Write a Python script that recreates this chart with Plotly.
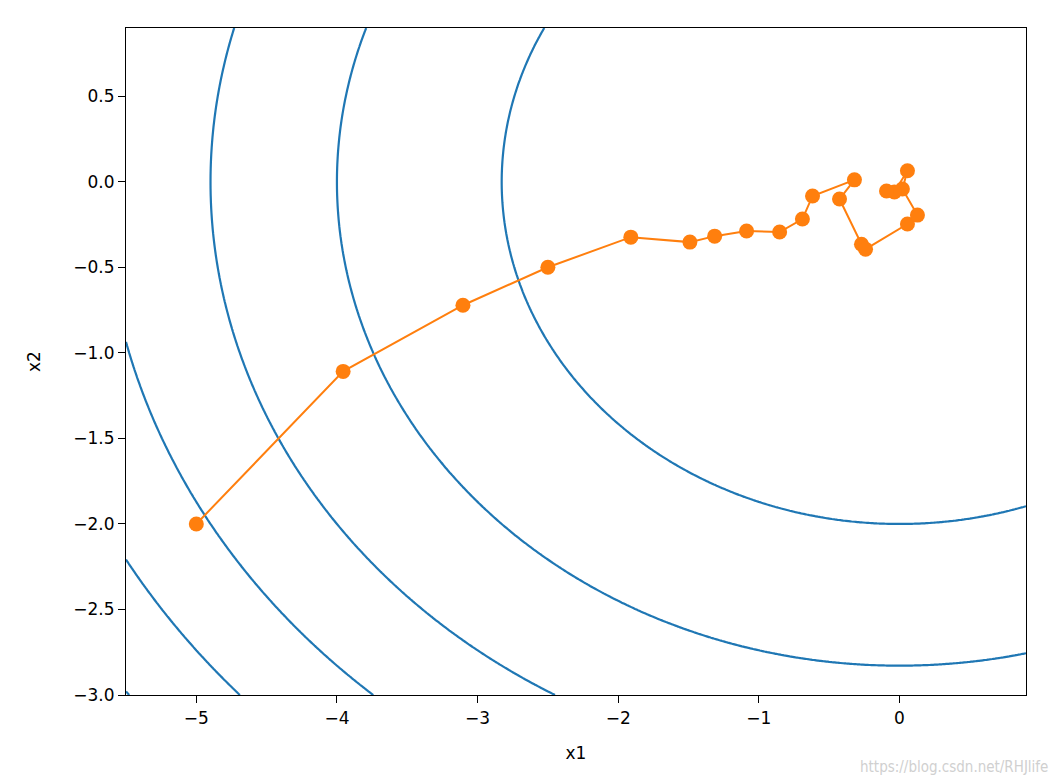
import numpy as np
import plotly.graph_objects as go

# trajectory of x1, x2
traj_x1 = [-5.0, -3.956, -3.104, -2.50, -1.91, -1.49, -1.314, -1.087, -0.852, -0.690,
           -0.618, -0.320, -0.426, -0.270, -0.241, 0.057, 0.128, 0.021, 0.057, -0.036, -0.092]
traj_x2 = [-2.0, -1.108, -0.721, -0.499, -0.323, -0.352, -0.317, -0.287, -0.293, -0.217,
           -0.082, 0.012, -0.100, -0.364, -0.393, -0.246, -0.194, -0.041, 0.065, -0.059, -0.053]

# contour function f(x1, x2) = a*x1^2 + b*x2^2
coef_a = 1.0
coef_b = 2.0
contour_levels = dict(start=8, end=48, size=8)
x1_grid = np.arange(-5.5, 0.91, 0.02)
x2_grid = np.arange(-3.0, 0.91, 0.02)
X1, X2 = np.meshgrid(x1_grid, x2_grid)
Z = coef_a * X1 ** 2 + coef_b * X2 ** 2

blue = '#1f77b4'
orange = '#ff7f0e'
font = 'DejaVu Sans'

fig = go.Figure()
fig.add_trace(go.Contour(
    x=x1_grid, y=x2_grid, z=Z,
    contours=dict(coloring='lines', **contour_levels),
    colorscale=[[0, blue], [1, blue]],
    line=dict(width=2.2, smoothing=1),
    showscale=False, hoverinfo='skip'))
fig.add_trace(go.Scatter(
    x=traj_x1, y=traj_x2, mode='lines+markers',
    line=dict(color=orange, width=2),
    marker=dict(color=orange, size=15),
    showlegend=False))

axis_common = dict(showline=True, mirror=True, linecolor='black', linewidth=1.2,
                   ticks='outside', ticklen=7, tickwidth=1.2, tickcolor='black',
                   showgrid=False, zeroline=False,
                   tickfont=dict(family=font, size=17, color='black'))
fig.update_xaxes(range=[-5.5, 0.9], tickvals=[-5, -4, -3, -2, -1, 0],
                 title=dict(text='x1', font=dict(family=font, size=17, color='black'), standoff=20),
                 **axis_common)
fig.update_yaxes(range=[-3.0, 0.9], tickvals=[-3.0, -2.5, -2.0, -1.5, -1.0, -0.5, 0.0, 0.5],
                 tickformat='.1f',
                 title=dict(text='x2', font=dict(family=font, size=17, color='black'), standoff=28),
                 **axis_common)

fig.add_annotation(text='https://blog.csdn.net/RHJlife', xref='paper', yref='paper',
                   x=1.027, y=-0.092, xanchor='right', yanchor='top', showarrow=False,
                   font=dict(family='Liberation Sans Narrow, DejaVu Sans Condensed', size=15, color='#d0d0d0'))

fig.update_layout(width=1042, height=768, plot_bgcolor='white', paper_bgcolor='white',
                  margin=dict(l=118, r=24, t=20, b=81), showlegend=False)

fig.write_html('out.html')
